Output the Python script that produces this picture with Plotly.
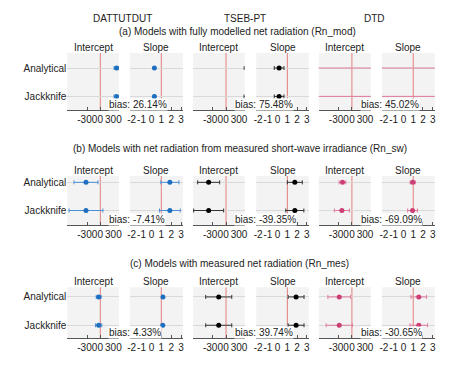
import plotly.graph_objects as go

W, H = 474, 379

models = ["DATTUTDUT", "TSEB-PT", "DTD"]
row_titles = [
    "(a) Models with fully modelled net radiation (Rn_mod)",
    "(b) Models with net radiation from measured short-wave irradiance (Rn_sw)",
    "(c) Models with measured net radiation (Rn_mes)",
]
methods = ["Analytical", "Jackknife"]
params = ["Intercept", "Slope"]

# values per row (a, b, c), each [Analytical, Jackknife]
datt_int_val = [[375, 375], [-330, -330], [-38, -38]]
datt_int_err = [[58, 60], [276, 390], [57, 72]]
datt_slope_val = [[0.3, 0.3], [1.87, 1.87], [1.17, 1.15]]
datt_slope_err = [[0.06, 0.08], [0.92, 1.05], [0.05, 0.06]]

tseb_int_val = [[500, 500], [-400, -400], [-168, -168]]
tseb_int_err = [[82, 85], [253, 345], [300, 300]]
tseb_slope_val = [[0.15, 0.15], [1.77, 1.77], [1.9, 1.9]]
tseb_slope_err = [[0.5, 0.5], [0.77, 0.93], [0.82, 0.82]]

dtd_int_val = [[3000, 3000], [-215, -230], [-290, -290]]
dtd_int_err = [[9000, 9000], [77, 172], [260, 300]]
dtd_slope_val = [[8, 8], [0.95, 0.93], [1.57, 1.57]]
dtd_slope_err = [[30, 30], [0.27, 0.5], [0.8, 0.9]]

bias = [["26.14%", "75.48%", "45.02%"],
        ["-7.41%", "-39.35%", "-69.09%"],
        ["4.33%", "39.74%", "-30.65%"]]

ref_values = [0, 1]
int_ticks = [-300, 0, 300]
slope_ticks = [-2, -1, 0, 1, 2, 3]

# styling
FONT = "Liberation Sans, Arial, sans-serif"
marker_colors = ["#1f6fc0", "#000000", "#cc3f74"]
err_colors = ["#4a90d6", "#333333", "#e07a9c"]
ref_color = "#e27f7f"
bg = "#f3f3f3"

col_px = [(59.3, 111), (121.7, 175), (185, 236.7), (248.3, 300.7), (310.7, 362.7), (374, 426.7)]
row_px = [(45, 101.7), (168, 217.3), (279.3, 330)]
row_yrange = [[-0.47, 1.53], [-0.525, 1.225], [-0.45, 1.34]]
int_range = [-760, 430]
slope_range = [-2.2, 3.2]
header_left_px = [82.7, 214, 354]
title_left_px = [109, 63, 120]
title_y_px = [23.3, 140, 255]

vals = [
    (datt_int_val, datt_int_err, datt_slope_val, datt_slope_err),
    (tseb_int_val, tseb_int_err, tseb_slope_val, tseb_slope_err),
    (dtd_int_val, dtd_int_err, dtd_slope_val, dtd_slope_err),
]

fig = go.Figure()
layout = {}
shapes = []
annotations = []

def px2x(p):
    return p / W

def px2y(p):
    return 1 - p / H

yvals = [1, 0]
n = 0
for r in range(3):
    for m in range(3):
        for p in range(2):
            n += 1
            c = m * 2 + p
            xa = "x" if n == 1 else f"x{n}"
            ya = "y" if n == 1 else f"y{n}"
            xk = "xaxis" if n == 1 else f"xaxis{n}"
            yk = "yaxis" if n == 1 else f"yaxis{n}"
            v, e = (vals[m][0][r], vals[m][1][r]) if p == 0 else (vals[m][2][r], vals[m][3][r])
            fig.add_trace(go.Scatter(
                x=v, y=yvals, mode="markers", xaxis=xa, yaxis=ya,
                marker=dict(color=marker_colors[m], size=5),
                error_x=dict(type="data", array=e, visible=True, color=err_colors[m],
                             thickness=1, width=2),
                showlegend=False, cliponaxis=True, hoverinfo="skip",
            ))
            if p == 0:
                tv, tt, rng = int_ticks, [str(t) for t in int_ticks], int_range
            else:
                tv, tt, rng = slope_ticks, [str(t) for t in slope_ticks], slope_range
            layout[xk] = dict(
                domain=[px2x(col_px[c][0]), px2x(col_px[c][1])],
                anchor=ya, range=rng, tickvals=tv, ticktext=tt, tickangle=0,
                showgrid=False, zeroline=False, showline=True, linecolor="#555555",
                linewidth=1, ticks="inside", ticklen=3, tickcolor="#555555",
                tickfont=dict(size=10, color="#222222", family=FONT),
                fixedrange=True, automargin=False,
            )
            layout[yk] = dict(
                domain=[px2y(row_px[r][1]), px2y(row_px[r][0])],
                anchor=xa, range=row_yrange[r], tickvals=yvals,
                ticktext=methods, showticklabels=(c == 0),
                showgrid=True, gridcolor="#d9d9d9", gridwidth=1,
                zeroline=False, showline=False, ticks="",
                tickfont=dict(size=10, color="#222222", family=FONT),
                fixedrange=True, automargin=False,
            )
            shapes.append(dict(type="line", xref=xa, yref=f"{ya} domain",
                               x0=ref_values[p], x1=ref_values[p], y0=0, y1=1,
                               line=dict(color=ref_color, width=1), layer="below"))
            # panel title
            annotations.append(dict(
                text=params[p], xref="paper", yref="paper",
                x=px2x((col_px[c][0] + col_px[c][1]) / 2),
                y=px2y(row_px[r][0] - 6), xanchor="center", yanchor="middle",
                showarrow=False, font=dict(size=10, color="#222222", family=FONT)))
        # bias label
        annotations.append(dict(
            text=f"bias: {bias[r][m]}", xref="paper", yref="paper",
            x=px2x(col_px[m * 2][1] - 11), y=px2y(row_px[r][1] - 5.5),
            xanchor="left", yanchor="middle", showarrow=False, bgcolor="white",
            borderpad=0,
            font=dict(size=10, color="#222222", family=FONT)))

# model headers
for m in range(3):
    annotations.append(dict(
        text=models[m], xref="paper", yref="paper",
        x=px2x(header_left_px[m]), y=px2y(10), xanchor="left", yanchor="middle",
        showarrow=False, font=dict(size=10, color="#222222", family=FONT)))

# row titles
for r in range(3):
    annotations.append(dict(
        text=row_titles[r], xref="paper", yref="paper",
        x=px2x(title_left_px[r]), y=px2y(title_y_px[r]), xanchor="left", yanchor="middle",
        showarrow=False, font=dict(size=10, color="#222222", family=FONT)))

fig.update_layout(
    width=W, height=H, margin=dict(l=0, r=0, t=0, b=0, pad=0, autoexpand=False),
    paper_bgcolor="white", plot_bgcolor=bg,
    font=dict(family=FONT, size=10, color="#222222"),
    shapes=shapes, annotations=annotations, **layout,
)

fig.write_html("out.html")
